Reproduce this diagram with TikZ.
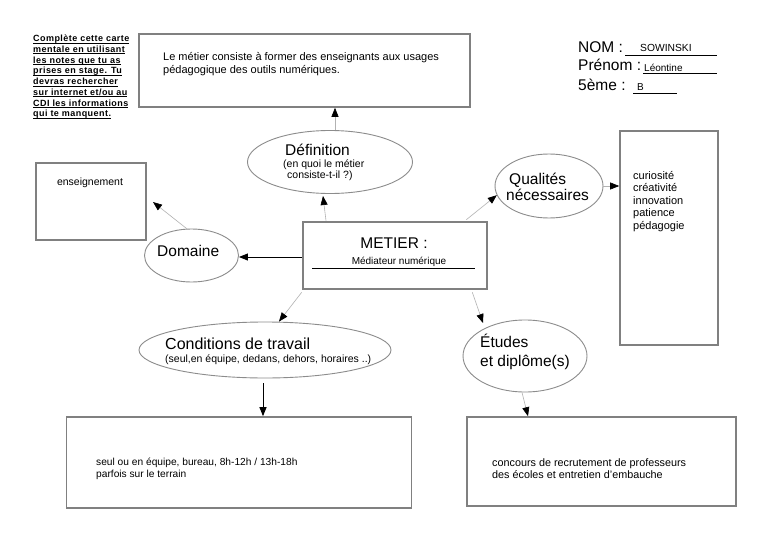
\documentclass[tikz,border=0pt]{standalone}
\usepackage{fontspec}
\setmainfont{Liberation Sans}
\usetikzlibrary{shapes.geometric,arrows.meta}
\newcommand\myul[1]{\setbox0\hbox{#1}\rlap{\rule[-1.6pt]{\wd0}{0.7pt}}\box0}
\begin{document}
\begin{tikzpicture}[x=1pt,y=-1pt,
  box/.style={draw=black!50,line width=1.6pt,inner sep=0pt},
  bigbox/.style={draw=black!50,line width=2.6pt,inner sep=0pt},
  oval/.style={ellipse,draw=black!45,line width=0.9pt,inner sep=0pt},
  lbl/.style={inner sep=0pt,anchor=base west},
  big/.style={lbl,font=\fontsize{15.5}{18}\selectfont},
  smalltxt/.style={font=\fontsize{10.5}{12.5}\selectfont,inner sep=0pt,anchor=base west,align=left},
  tipp/.style={-{Triangle[length=9pt,width=7pt,color=black]}},
  thin arrow/.style={tipp,draw=black!30,line width=0.6pt},
  bold arrow/.style={tipp,draw=black,line width=1pt}
]
\useasboundingbox[fill=white] (0,0) rectangle (768,543);

% instructions
\node[anchor=north west,inner sep=0pt,align=left,
  font=\fontsize{9}{10.7}\selectfont\bfseries\addfontfeature{LetterSpace=5}] (instr) at (33,35)
  {\myul{Complète cette carte}\\\myul{mentale en utilisant}\\\myul{les notes que tu as}\\
   \myul{prises en stage. Tu}\\\myul{devras rechercher}\\\myul{sur internet et/ou au}\\
   \myul{CDI les informations}\\\myul{qui te manquent.}};

% NOM block
\node[big] (nom) at (578,52.5) {NOM :};
\node[lbl,font=\fontsize{10.3}{11}\selectfont] (nomv) at (640,52) {SOWINSKI};
\draw[line width=0.8pt] (625,55) -- (717,55);
\node[big] (pre) at (578,70.5) {Prénom :};
\node[lbl,font=\fontsize{10}{11}\selectfont] (prev) at (644,71.5) {Léontine};
\draw[line width=0.8pt] (643,73.5) -- (717,73.5);
\node[big] (cls) at (578,90.5) {5ème :};
\node[lbl,font=\fontsize{10}{11}\selectfont] (clsv) at (637,90.5) {B};
\draw[line width=0.8pt] (633,93) -- (677,93);

% boxes
\node[box,minimum width=331pt,minimum height=73pt] (defbox) at (304.5,70.5) {};
\node[smalltxt,font=\fontsize{11}{13}\selectfont] (deft) at (163,74)
  {Le métier consiste à former des enseignants aux usages\\pédagogique des outils numériques.};

\node[box,minimum width=110pt,minimum height=77pt] (dombox) at (91,201.5) {};
\node[inner sep=0pt,anchor=base,font=\fontsize{10.5}{12}\selectfont] (domt) at (90,185) {enseignement};

\node[box,minimum width=98pt,minimum height=214pt] (qualbox) at (669,238) {};
\node[smalltxt,font=\fontsize{11}{12.6}\selectfont] (qualt) at (633,229.5)
  {curiosité\\créativité\\innovation\\patience\\pédagogie};

\node[box,minimum width=345pt,minimum height=91pt] (condbox) at (239,462.5) {};
\node[smalltxt,font=\fontsize{10.2}{12}\selectfont] (condt) at (96,477)
  {seul ou en équipe, bureau, 8h-12h / 13h-18h\\parfois sur le terrain};

\node[box,minimum width=269pt,minimum height=89pt] (etubox) at (601.5,461.5) {};
\node[smalltxt,font=\fontsize{10.8}{12}\selectfont] (etut) at (492,478)
  {concours de recrutement de professeurs\\des écoles et entretien d'embauche};

% central
\node[bigbox,minimum width=184pt,minimum height=67pt] (metier) at (395,255.5) {};
\node[inner sep=0pt,anchor=base,font=\fontsize{15.5}{18}\selectfont] (mt) at (394,248) {METIER :};
\node[inner sep=0pt,anchor=base,font=\fontsize{10}{12}\selectfont] (mv) at (399,264) {Médiateur numérique};
\draw[line width=0.8pt] (312,268.5) -- (475,268.5);

% ellipses
\node[oval,minimum width=165pt,minimum height=63pt] (def) at (330,162) {};
\node[big] (defa) at (285,155) {Définition};
\node[lbl,font=\fontsize{10.5}{12}\selectfont] (defb) at (283,167) {(en quoi le métier};
\node[lbl,font=\fontsize{10.5}{12}\selectfont] (defc) at (287,178) {consiste-t-il ?)};

\node[oval,minimum width=94pt,minimum height=53pt] (dom) at (191.5,255.5) {};
\node[big] (doma) at (157,256) {Domaine};

\node[oval,minimum width=108pt,minimum height=64pt] (qual) at (549,186) {};
\node[big] (quala) at (509,184) {Qualités};
\node[big] (qualb) at (506,200) {nécessaires};

\node[oval,minimum width=252pt,minimum height=56pt] (cond) at (265,350) {};
\node[lbl,font=\fontsize{16}{18}\selectfont] (conda) at (165,349) {Conditions de travail};
\node[lbl,font=\fontsize{10.5}{12}\selectfont] (condb) at (165,362) {(seul,en équipe, dedans, dehors, horaires ..)};

\node[oval,minimum width=124pt,minimum height=72pt] (etu) at (525,356) {};
\node[big] (etua) at (480,347) {Études};
\node[big] (etub) at (480,366) {et diplôme(s)};

% connectors
\draw[thin arrow] (def.north -| 335,0) -- (defbox.south -| 335,0);
\draw[thin arrow] (metier.north -| 326,0) -- (323,196);
\draw[bold arrow] (metier.west |- 0,257) -- (dom.east |- 0,257);
\draw[thin arrow] (dom.100) -- (153,202) coordinate (d2);
\draw[thin arrow] (metier.north east) ++(-22,-1) coordinate (q1) (q1) -- (qual.190);
\draw[thin arrow] (qual.east) -- (qualbox.west |- qual.east);
\draw[thin arrow] (metier.south west) ++(0,2) coordinate (c1) (c1) -- (cond.north -| 279,0);
\draw[bold arrow] (cond.south -| 263,0) ++(0,5) coordinate (c2) (c2) -- (condbox.north -| 263,0);
\draw[thin arrow] (metier.south east) ++(-16,2) coordinate (e1) (e1) -- (483,323);
\draw[thin arrow] (etu.south -| 522,0) -- (etubox.north -| 528,0);
\end{tikzpicture}
\end{document}
